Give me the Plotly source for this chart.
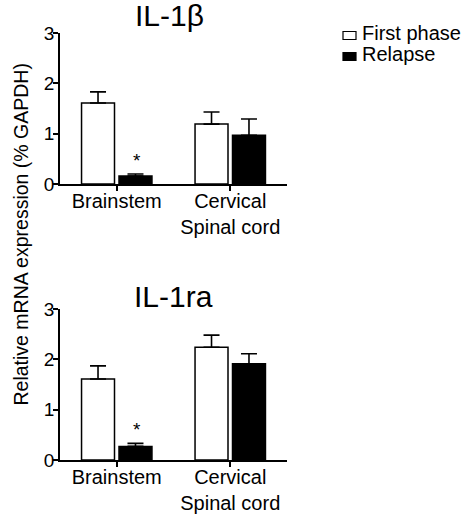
import plotly.graph_objects as go

W, H = 474, 519

# data
regions = ["Brainstem", "Cervical<br>Spinal cord"]
il1b_first = [1.61, 1.19]
il1b_first_err = [0.22, 0.24]
il1b_relapse = [0.16, 0.97]
il1b_relapse_err = [0.04, 0.32]
il1ra_first = [1.61, 2.24]
il1ra_first_err = [0.26, 0.24]
il1ra_relapse = [0.27, 1.91]
il1ra_relapse_err = [0.06, 0.20]
yticks = [0, 1, 2, 3]
legend_names = ["First phase", "Relapse"]
legend_colors = ["white", "black"]

FONT = "Liberation Sans, Arial, sans-serif"


def px_x(p):
    return p / W


def px_y(p):
    return 1 - p / H


def bar(name, x, y, err, color, xa, ya):
    return go.Bar(
        name=name, x=x, y=y, xaxis=xa, yaxis=ya, showlegend=False,
        marker=dict(color=color, line=dict(color="black", width=1.5)),
        error_y=dict(type="data", array=err, arrayminus=[0] * len(err),
                     symmetric=False, color="black", thickness=1.6, width=8),
    )


fig = go.Figure()
fig.add_trace(bar("First phase", regions, il1b_first, il1b_first_err, "white", "x", "y"))
fig.add_trace(bar("Relapse", regions, il1b_relapse, il1b_relapse_err, "black", "x", "y"))
fig.add_trace(bar("First phase", regions, il1ra_first, il1ra_first_err, "white", "x2", "y2"))
fig.add_trace(bar("Relapse", regions, il1ra_relapse, il1ra_relapse_err, "black", "x2", "y2"))

xdom = [px_x(60), px_x(287)]
xax = dict(domain=xdom, range=[-0.5, 1.5], showline=True, linecolor="black", linewidth=1.5,
           ticks="outside", ticklen=5, tickwidth=1.5, tickcolor="black", automargin=False,
           ticklabelstandoff=-7,
           tickfont=dict(size=20, color="black"), showgrid=False, zeroline=False)
yax = dict(range=[0, 3], tickvals=yticks, showline=True, linecolor="black", linewidth=1.5,
           ticks="outside", ticklen=5, tickwidth=1.5, tickcolor="black", automargin=False,
           ticklabelstandoff=-5,
           tickfont=dict(size=19, color="black"), showgrid=False, zeroline=False)

fig.update_layout(
    width=W, height=H,
    margin=dict(l=0, r=0, t=0, b=0, autoexpand=False),
    paper_bgcolor="white", plot_bgcolor="white",
    font=dict(family=FONT, color="black"),
    barmode="group", bargap=0.34, bargroupgap=0.12,
    xaxis=dict(xax, anchor="y"),
    yaxis=dict(yax, domain=[px_y(184), px_y(33)], anchor="x"),
    xaxis2=dict(xax, anchor="y2"),
    yaxis2=dict(yax, domain=[px_y(460), px_y(309)], anchor="x2"),
    showlegend=False,
)

annots = [
    dict(text="IL-1β", x=px_x(169), y=px_y(16), font=dict(size=30)),
    dict(text="IL-1ra", x=px_x(173), y=px_y(296), font=dict(size=30)),
    dict(text="Relative mRNA expression (% GAPDH)", x=px_x(20.5), y=px_y(235),
         textangle=-90, font=dict(size=19.5)),
]
for a in annots:
    fig.add_annotation(xref="paper", yref="paper", showarrow=False,
                       xanchor="center", yanchor="middle", **a)

# legend drawn by hand: small boxes and labels
for i, (name, col) in enumerate(zip(legend_names, legend_colors)):
    yc = 35.5 + 21 * i
    fig.add_shape(type="rect", xref="paper", yref="paper",
                  x0=px_x(343), x1=px_x(356), y0=px_y(yc + 4), y1=px_y(yc - 4),
                  fillcolor=col, line=dict(color="black", width=1.2))
    fig.add_annotation(xref="paper", yref="paper", x=px_x(360), y=px_y(yc - 2.5),
                       text=name, showarrow=False, xanchor="left", yanchor="middle",
                       font=dict(size=20))

# significance stars above the relapse bars in brainstem
fig.add_annotation(xref="x", yref="y", x=0, y=il1b_relapse[0] + il1b_relapse_err[0],
                   xshift=20, yshift=1, text="*", showarrow=False, yanchor="bottom",
                   font=dict(size=19))
fig.add_annotation(xref="x2", yref="y2", x=0, y=il1ra_relapse[0] + il1ra_relapse_err[0],
                   xshift=20, yshift=1, text="*", showarrow=False, yanchor="bottom",
                   font=dict(size=19))

# drop the default 8px page margin so the 474x519 figure fills the window
fig.write_html("out.html", config={"displayModeBar": False},
               post_script="document.body.style.margin='0';")
